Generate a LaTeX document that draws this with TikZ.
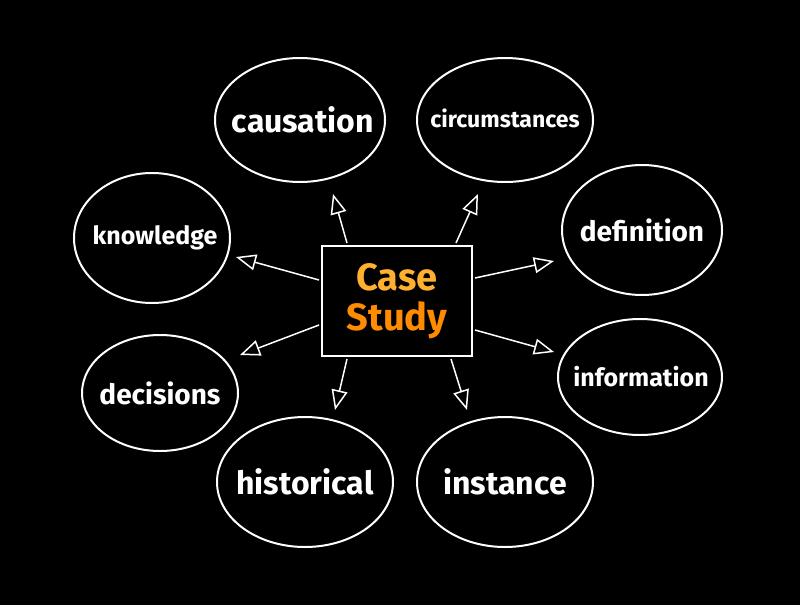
\documentclass[tikz,border=0pt]{standalone}
\usepackage{fontspec}
\setmainfont{Fira Sans}
\usetikzlibrary{arrows.meta}
\begin{document}
\begin{tikzpicture}[x=1pt,y=-1pt,
  lbl/.style={text=white},
  arr/.style={draw=white,line width=1.5pt,-{Triangle[open,length=20pt,width=16pt]}}]
\fill[black] (0,0) rectangle (800,605);
\useasboundingbox (0,0) rectangle (800,605);
\draw[white,line width=2pt] (300,120) ellipse [x radius=85,y radius=62];
\node[lbl,font=\bfseries\fontsize{32}{34}\selectfont] (causation) at (303,120) {causation};
\draw[white,line width=2pt] (505,120) ellipse [x radius=88,y radius=62];
\node[lbl,font=\bfseries\fontsize{23}{25}\selectfont] (circ) at (505,118) {circumstances};
\draw[white,line width=2pt] (152,238) ellipse [x radius=78,y radius=65];
\node[lbl,font=\bfseries\fontsize{25}{27}\selectfont] (know) at (155,238) {knowledge};
\draw[white,line width=2pt] (642,230) ellipse [x radius=80,y radius=65];
\node[lbl,font=\bfseries\fontsize{28}{30}\selectfont] (def) at (642,230) {definition};
\draw[white,line width=2pt] (160,393) ellipse [x radius=78,y radius=58];
\node[lbl,font=\bfseries\fontsize{28}{30}\selectfont] (dec) at (160,393) {decisions};
\draw[white,line width=2pt] (640,377) ellipse [x radius=82,y radius=58];
\node[lbl,font=\bfseries\fontsize{25}{27}\selectfont] (info) at (641,377) {information};
\draw[white,line width=2pt] (305,482) ellipse [x radius=88,y radius=65];
\node[lbl,font=\bfseries\fontsize{32}{34}\selectfont] (hist) at (305,482) {historical};
\draw[white,line width=2pt] (505,482) ellipse [x radius=88,y radius=65];
\node[lbl,font=\bfseries\fontsize{32}{34}\selectfont] (inst) at (505,482) {instance};
\node[draw=white,line width=2pt,fill=black,minimum width=150pt,minimum height=110pt,align=center,
  font=\bfseries\fontsize{38}{40}\selectfont] (cs) at (397,301)
  {\textcolor[HTML]{FFB030}{Case}\\\textcolor[HTML]{FF8C00}{Study}};
\coordinate (a1) at (333,194); \coordinate (a2) at (478,194);
\coordinate (a3) at (236,257); \coordinate (a4) at (554,261);
\coordinate (a5) at (240,355); \coordinate (a6) at (554,352);
\coordinate (a7) at (335,410); \coordinate (a8) at (467,410);
\draw[arr] (cs.north west)++(26,-2) -- (a1);
\draw[arr] (cs.north east)++(-17,-2) -- (a2);
\draw[arr] (cs.west)++(-2,-21) -- (a3);
\draw[arr] (cs.east)++(2,-23) -- (a4);
\draw[arr] (cs.west)++(-2,24) -- (a5);
\draw[arr] (cs.east)++(2,29) -- (a6);
\draw[arr] (cs.south west)++(26,2) -- (a7);
\draw[arr] (cs.south east)++(-22,2) -- (a8);
\end{tikzpicture}
\end{document}
